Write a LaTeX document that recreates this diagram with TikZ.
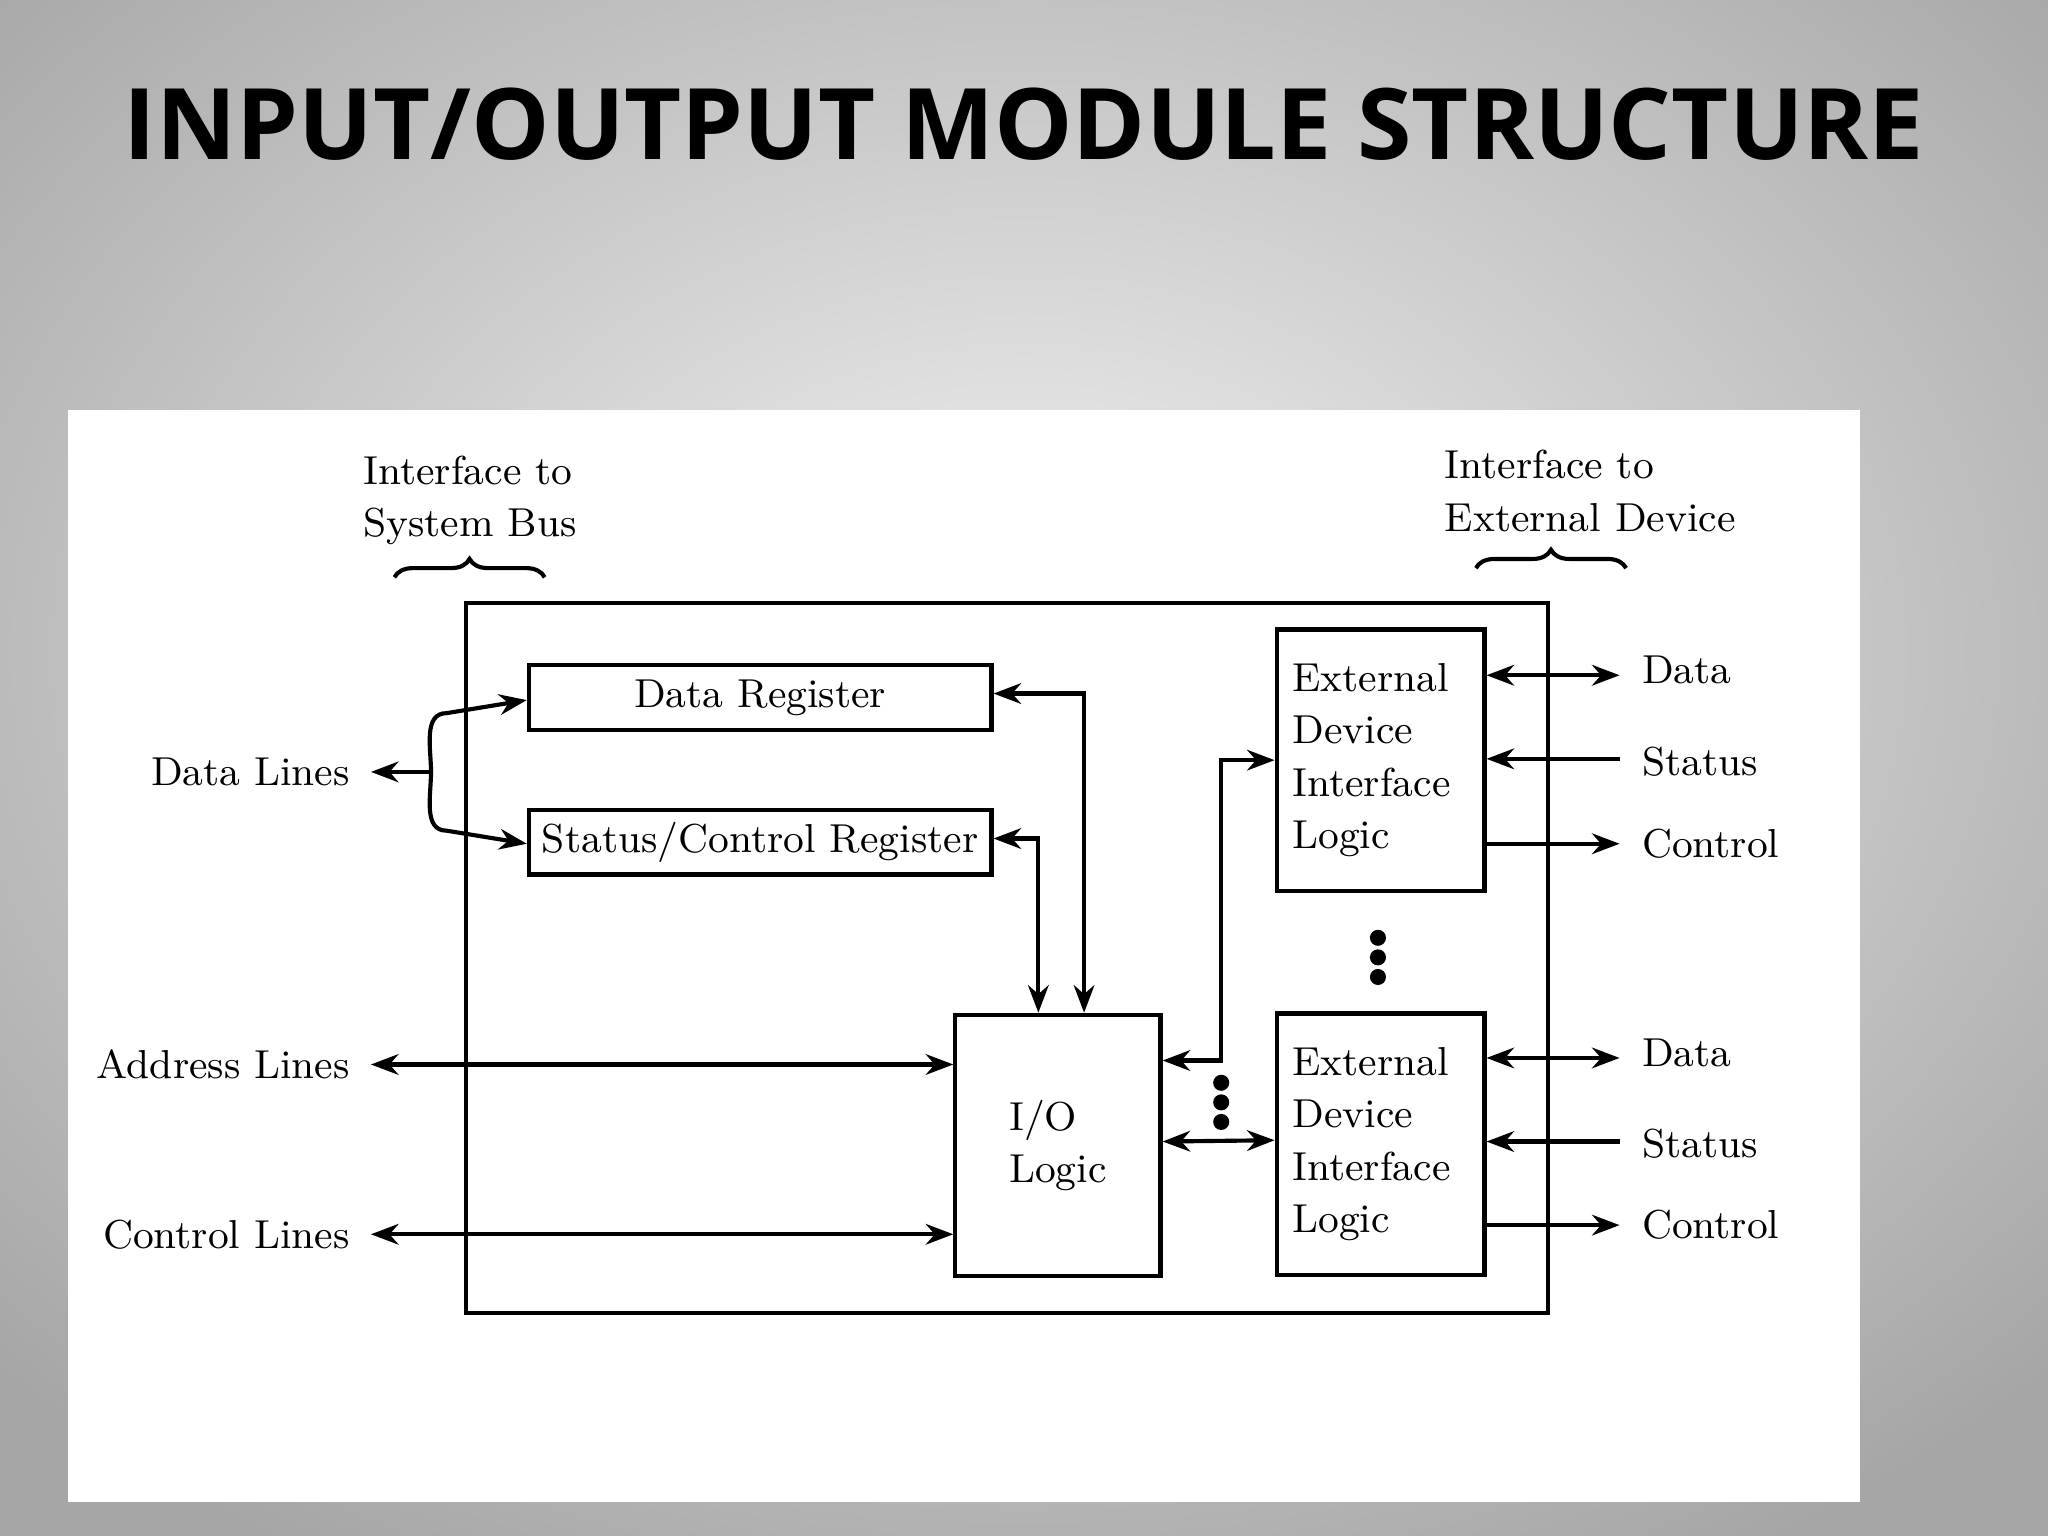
\documentclass[tikz,border=0pt]{standalone}
\usepackage{fontspec}
\newfontfamily\titlefont{Open Sans}
\usetikzlibrary{arrows.meta,decorations.pathreplacing,positioning}
\begin{document}
\begin{tikzpicture}[x=0.01cm,y=-0.01cm,
  ln/.style={line width=0.9pt,-{Stealth[length=6pt,width=4.5pt]}},
  bi/.style={line width=0.9pt,{Stealth[length=6pt,width=4.5pt]}-{Stealth[length=6pt,width=4.5pt]}},
  box/.style={draw,line width=0.9pt,inner sep=0pt},
  txt/.style={font=\fontsize{8.8}{11.4}\selectfont},
  edil/.style={box,minimum width=1.59cm,minimum height=2cm,txt,align=left,text width=1.35cm},
  lab/.style={txt,inner sep=1pt},
  brc/.style={line width=0.9pt,decorate,decoration={brace,amplitude=4pt}},
  dot/.style={circle,fill,inner sep=0pt,minimum size=3.5pt}]
\useasboundingbox (0,0) rectangle (1568,1176);
\shade[inner color=gray!10,outer color=gray!70] (-300,-300) rectangle (1868,1300);
\node[font=\titlefont\bfseries\fontsize{21.5}{24}\selectfont] (title) at (784,95) {INPUT/OUTPUT MODULE STRUCTURE};
\fill[white] (52,314) rectangle (1424,1150);
\draw[line width=0.9pt] (357,462) rectangle (1185,1005);
\node[box,minimum width=3.54cm,minimum height=0.5cm,txt] (dr) at (582,534) {Data Register};
\node[box,minimum width=3.54cm,minimum height=0.49cm,txt] (sr) at (582,645) {Status/Control Register};
\node[box,minimum width=1.57cm,minimum height=2cm,txt,align=left] (io) at (810,877) {I/O\\Logic};
\node[edil] (e1) at (1057,582) {External\\Device\\Interface\\Logic};
\node[edil] (e2) at (1057,876) {External\\Device\\Interface\\Logic};
\node[lab,anchor=east] (dl) at (272,591) {Data Lines};
\node[lab,anchor=east] (al) at (272,815) {Address Lines};
\node[lab,anchor=east] (cl) at (272,945) {Control Lines};
\node[lab,anchor=west,align=left] (isb) at (274,383) {Interface to\\System Bus};
\node[lab,anchor=west,align=left] (ied) at (1102,376) {Interface to\\External Device};
\draw[brc] (302,442) -- (417,442);
\draw[brc] (1130,435) -- (1245,435);
% data lines
\coordinate (j) at (330,591);
\draw[ln] (j) -- ([xshift=0.12cm]dl.east);
\draw[ln] (j) to[out=90,in=180] ++(12,-45) -- (dr.west |- 0,536);
\draw[ln] (j) to[out=-90,in=180] ++(12,45) -- (sr.west |- 0,646);
\draw[bi] ([xshift=0.12cm]al.east) -- (io.west |- al.east);
\draw[bi] ([xshift=0.12cm]cl.east) -- (io.west |- cl.east);
\draw[bi] ([yshift=0.03cm]dr.east) -| ([xshift=0.2cm]io.north);
\draw[bi] ([yshift=0.03cm]sr.east) -| ([xshift=-0.15cm]io.north);
\draw[bi] ([yshift=0.65cm]io.east) -| (935,582) -- (e1.west);
\draw[bi] ([yshift=0.03cm]io.east) -- ([yshift=0.03cm]e2.west);
\foreach \y in {829,844,859} \node[dot] at (935,\y) {};
\foreach \y in {718,733,748} \node[dot] at (1055,\y) {};
% right side
\node[lab,anchor=west] (d1) at (1253,513) {Data};
\node[lab,anchor=west] (s1) at (1253,583) {Status};
\node[lab,anchor=west] (c1) at (1253,646) {Control};
\node[lab,anchor=west] (d2) at (1253,806) {Data};
\node[lab,anchor=west] (s2) at (1253,876) {Status};
\node[lab,anchor=west] (c2) at (1253,938) {Control};
\draw[bi] (e1.east |- 0,517) -- (1240,517);
\draw[ln] (1240,581) -- (e1.east |- 0,581);
\draw[ln] (e1.east |- 0,646) -- (1240,646);
\draw[bi] (e2.east |- 0,810) -- (1240,810);
\draw[ln] (1240,874) -- (e2.east |- 0,874);
\draw[ln] (e2.east |- 0,938) -- (1240,938);
\end{tikzpicture}
\end{document}
